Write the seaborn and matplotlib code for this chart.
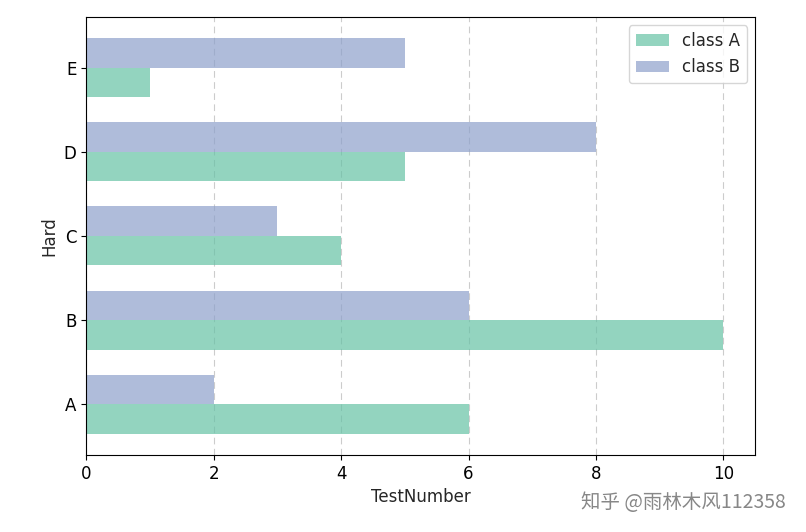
import matplotlib
matplotlib.use('Agg')
import matplotlib.pyplot as plt
import pandas as pd
import seaborn as sns

hard = ['A', 'B', 'C', 'D', 'E']
class_a = [6, 10, 4, 5, 1]
class_b = [2, 6, 3, 8, 5]
xticks = [0, 2, 4, 6, 8, 10]


def main():
    df = pd.DataFrame({
        'Hard': hard * 2,
        'TestNumber': class_a + class_b,
        'cls': ['class A'] * len(hard) + ['class B'] * len(hard),
    })

    sns.set_style('ticks')
    plt.rcParams['font.family'] = ['DejaVu Sans']
    fig, ax = plt.subplots(figsize=(8.06, 5.32), dpi=100)
    sns.barplot(data=df, x='TestNumber', y='Hard', hue='cls', orient='h',
                order=hard, palette=['#66c2a5', '#8da0cb'], alpha=0.7,
                saturation=1, linewidth=0,
                width=0.7, gap=0, errorbar=None, ax=ax)
    ax.set_ylim(-0.6, 4.6)
    ax.set_xlim(0, 10.5)
    ax.set_xticks(xticks)
    ax.grid(axis='x', ls=(0, (6, 4)), lw=0.8, color='#cccccc')
    ax.set_axisbelow(True)
    for s in ax.spines.values():
        s.set_color('black')
    ax.tick_params(labelsize=12, colors='black')
    ax.set_xlabel('TestNumber', fontsize=12)
    ax.set_ylabel('Hard', fontsize=12)
    ax.legend(loc='upper right', fontsize=12, title=None)

    fig.subplots_adjust(left=0.107, right=0.937, top=0.968, bottom=0.145)
    fig.text(0.975, 0.035, '知乎 @雨林木风112358', ha='right', va='bottom',
             fontsize=14, color='#555555', alpha=0.7,
             family=['Noto Sans CJK SC', 'DejaVu Sans'])
    fig.savefig('out.png', dpi=100)


if __name__ == '__main__':
    main()
